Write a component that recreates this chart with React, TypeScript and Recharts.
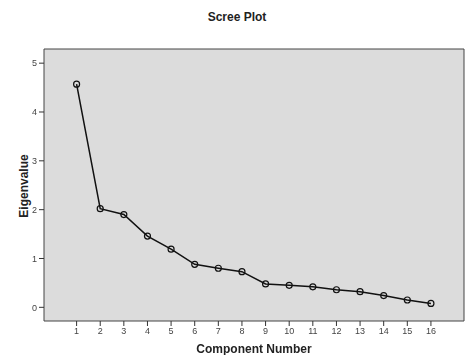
import { LineChart, Line, XAxis, YAxis, ReferenceArea } from "recharts";

const components = [1, 2, 3, 4, 5, 6, 7, 8, 9, 10, 11, 12, 13, 14, 15, 16];
const eigenvalues = [4.57, 2.02, 1.9, 1.46, 1.19, 0.88, 0.8, 0.73, 0.48, 0.45, 0.42, 0.36, 0.32, 0.24, 0.15, 0.08];
const yTicks = [0, 1, 2, 3, 4, 5];

const data = components.map((c, i) => ({ component: c, eigenvalue: eigenvalues[i] }));

const font = "'Liberation Sans', Arial, sans-serif";
const tickStyle = { fontSize: 9, fill: "#444", fontFamily: font };

export default function App() {
    return (
        <div style={{ position: "fixed", left: 0, top: 0, width: 474, height: 355, background: "#fff", fontFamily: font }}>
            <div style={{ position: "absolute", left: 0, width: 474, top: 10, textAlign: "center", fontSize: 12, fontWeight: "bold", color: "#222" }}>
                Scree Plot
            </div>
            <div
                style={{
                    position: "absolute",
                    left: 24,
                    top: 186,
                    transform: "translate(-50%, -50%) rotate(-90deg)",
                    fontSize: 12,
                    fontWeight: "bold",
                    color: "#222",
                    whiteSpace: "nowrap",
                }}
            >
                Eigenvalue
            </div>
            <div style={{ position: "absolute", left: 44, width: 420, top: 342, textAlign: "center", fontSize: 12, fontWeight: "bold", color: "#222" }}>
                Component Number
            </div>
            <LineChart width={474} height={355} data={data} margin={{ top: 49, right: 10, bottom: 0, left: 0 }}>
                <ReferenceArea x1={-0.38} x2={17.4} y1={-0.28} y2={5.29} fill="#dcdcdc" fillOpacity={1} stroke="#444" strokeWidth={1} />
                <XAxis
                    dataKey="component"
                    type="number"
                    domain={[-0.38, 17.4]}
                    ticks={components}
                    allowDataOverflow
                    axisLine={false}
                    tickSize={5}
                    tickLine={{ stroke: "#333" }}
                    tick={tickStyle}
                    height={34}
                    interval={0}
                />
                <YAxis
                    type="number"
                    domain={[-0.28, 5.29]}
                    ticks={yTicks}
                    allowDataOverflow
                    axisLine={false}
                    tickSize={5}
                    tickLine={{ stroke: "#333" }}
                    tick={tickStyle}
                    width={44}
                />
                <Line
                    dataKey="eigenvalue"
                    stroke="#111"
                    strokeWidth={1.5}
                    dot={{ r: 3, stroke: "#111", strokeWidth: 1.2, fill: "none" }}
                    activeDot={false}
                    isAnimationActive={false}
                />
            </LineChart>
        </div>
    );
}
